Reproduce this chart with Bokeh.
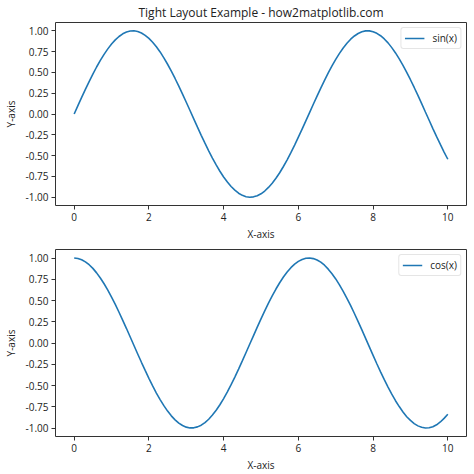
from bokeh.plotting import figure
from bokeh.layouts import column
from bokeh.models import FixedTicker, NumeralTickFormatter, Legend, LegendItem
from bokeh.embed import file_html
from bokeh.resources import INLINE

x_vals = [0.0, 0.1, 0.2, 0.3, 0.4, 0.5, 0.6, 0.7, 0.8, 0.9,
          1.0, 1.1, 1.2, 1.3, 1.4, 1.5, 1.6, 1.7, 1.8, 1.9,
          2.0, 2.1, 2.2, 2.3, 2.4, 2.5, 2.6, 2.7, 2.8, 2.9,
          3.0, 3.1, 3.2, 3.3, 3.4, 3.5, 3.6, 3.7, 3.8, 3.9,
          4.0, 4.1, 4.2, 4.3, 4.4, 4.5, 4.6, 4.7, 4.8, 4.9,
          5.0, 5.1, 5.2, 5.3, 5.4, 5.5, 5.6, 5.7, 5.8, 5.9,
          6.0, 6.1, 6.2, 6.3, 6.4, 6.5, 6.6, 6.7, 6.8, 6.9,
          7.0, 7.1, 7.2, 7.3, 7.4, 7.5, 7.6, 7.7, 7.8, 7.9,
          8.0, 8.1, 8.2, 8.3, 8.4, 8.5, 8.6, 8.7, 8.8, 8.9,
          9.0, 9.1, 9.2, 9.3, 9.4, 9.5, 9.6, 9.7, 9.8, 9.9, 10.0]
sin_vals = [0.000, 0.100, 0.199, 0.296, 0.389, 0.479, 0.565, 0.644, 0.717, 0.783,
            0.841, 0.891, 0.932, 0.964, 0.985, 0.997, 1.000, 0.992, 0.974, 0.946,
            0.909, 0.863, 0.808, 0.746, 0.675, 0.598, 0.516, 0.427, 0.335, 0.239,
            0.141, 0.042, -0.058, -0.158, -0.256, -0.351, -0.443, -0.530, -0.612, -0.688,
            -0.757, -0.818, -0.872, -0.916, -0.952, -0.978, -0.994, -1.000, -0.996, -0.982,
            -0.959, -0.926, -0.883, -0.832, -0.773, -0.706, -0.631, -0.551, -0.465, -0.374,
            -0.279, -0.182, -0.083, 0.017, 0.117, 0.215, 0.312, 0.405, 0.494, 0.578,
            0.657, 0.729, 0.794, 0.850, 0.899, 0.938, 0.968, 0.988, 0.999, 0.999,
            0.989, 0.970, 0.941, 0.902, 0.855, 0.798, 0.734, 0.663, 0.585, 0.501,
            0.412, 0.319, 0.223, 0.124, 0.024, -0.075, -0.175, -0.272, -0.366, -0.458, -0.544]
cos_vals = [1.000, 0.995, 0.980, 0.955, 0.921, 0.878, 0.825, 0.765, 0.697, 0.622,
            0.540, 0.454, 0.362, 0.267, 0.170, 0.071, -0.029, -0.129, -0.227, -0.323,
            -0.416, -0.505, -0.589, -0.666, -0.737, -0.801, -0.857, -0.904, -0.942, -0.971,
            -0.990, -0.999, -0.998, -0.987, -0.967, -0.936, -0.897, -0.848, -0.791, -0.726,
            -0.654, -0.575, -0.490, -0.401, -0.307, -0.211, -0.112, -0.012, 0.087, 0.187,
            0.284, 0.378, 0.469, 0.554, 0.635, 0.709, 0.776, 0.835, 0.886, 0.927,
            0.960, 0.983, 0.997, 1.000, 0.993, 0.977, 0.951, 0.915, 0.869, 0.815,
            0.754, 0.684, 0.608, 0.526, 0.439, 0.347, 0.252, 0.154, 0.054, -0.046,
            -0.146, -0.244, -0.339, -0.431, -0.519, -0.602, -0.679, -0.748, -0.811, -0.867,
            -0.911, -0.948, -0.975, -0.992, -1.000, -0.997, -0.985, -0.962, -0.929, -0.887, -0.839]
x_ticks = [0, 2, 4, 6, 8, 10]
y_ticks = [-1.0, -0.75, -0.5, -0.25, 0.0, 0.25, 0.5, 0.75, 1.0]

FONT = "Open Sans"
LINE = "#1f77b4"
DARK = "#333333"


def make_fig(yvals, label, height, top, bottom, title=None):
    p = figure(width=474, height=height, x_range=(-0.5, 10.5), y_range=(-1.1, 1.1),
               output_backend="svg", toolbar_location=None,
               min_border_left=48, min_border_right=8,
               min_border_top=top, min_border_bottom=bottom,
               title=title)
    p.grid.visible = False
    p.outline_line_color = DARK
    p.outline_line_width = 1
    p.background_fill_color = "white"
    p.border_fill_color = "white"
    for ax in (p.xaxis[0], p.yaxis[0]):
        ax.axis_line_color = None
        ax.major_tick_line_color = DARK
        ax.major_tick_out = 4
        ax.major_tick_in = 0
        ax.minor_tick_line_color = None
        ax.major_label_text_font = FONT
        ax.major_label_text_font_size = "10px"
        ax.major_label_text_color = "#222222"
        ax.axis_label_text_font = FONT
        ax.axis_label_text_font_size = "10px"
        ax.axis_label_text_font_style = "normal"
        ax.axis_label_text_color = "#222222"
        ax.major_label_standoff = 3
        ax.axis_label_standoff = 3
    p.yaxis[0].axis_label_standoff = 5
    p.xaxis[0].ticker = FixedTicker(ticks=x_ticks)
    p.yaxis[0].ticker = FixedTicker(ticks=y_ticks)
    p.yaxis[0].formatter = NumeralTickFormatter(format="0.00")
    p.xaxis[0].axis_label = "X-axis"
    p.yaxis[0].axis_label = "Y-axis"
    r = p.line(x_vals, yvals, line_color=LINE, line_width=1.6)
    leg = Legend(items=[LegendItem(label=label, renderers=[r])], location="top_right")
    leg.label_text_font = FONT
    leg.label_text_font_size = "10px"
    leg.label_text_color = "#222222"
    leg.border_line_color = "#cccccc"
    leg.border_radius = 3
    leg.background_fill_alpha = 0.8
    leg.glyph_width = 20
    leg.glyph_height = 12
    leg.label_height = 12
    leg.label_standoff = 8
    leg.padding = 3
    leg.margin = 5
    leg.spacing = 0
    p.add_layout(leg)
    if title is not None:
        p.title.align = "center"
        p.title.text_font = FONT
        p.title.text_font_size = "12px"
        p.title.text_font_style = "normal"
        p.title.text_color = "#222222"
        p.title.standoff = 3
    return p


p1 = make_fig(sin_vals, "sin(x)", 243, 22, 32, title="Tight Layout Example - how2matplotlib.com")
p2 = make_fig(cos_vals, "cos(x)", 231, 6, 37)

layout = column(p1, p2, spacing=0)
open("out.html", "w").write(file_html(layout, INLINE))
